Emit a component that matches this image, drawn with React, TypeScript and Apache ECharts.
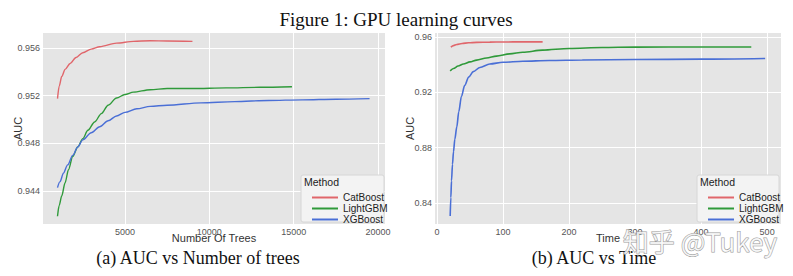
import React, { useEffect, useRef } from "react";
import * as echarts from "echarts";

// ---- Data ----
const methods = ["CatBoost", "LightGBM", "XGBoost"];

// (a) AUC vs Number of trees
const catTrees = [1000, 1100, 1250, 1450, 1750, 2100, 2500, 3000, 3500, 4500, 5500, 6500, 7500, 9000];
const catAucTrees = [0.95175, 0.9528, 0.9536, 0.9542, 0.9547, 0.9552, 0.9556, 0.9559, 0.9561, 0.9564, 0.95655, 0.9566, 0.95658, 0.95655];

const lgbTrees = [1000, 1100, 1250, 1450, 1650, 1900, 2200, 2500, 2800, 3200, 3600, 4000, 4500, 5000, 5500, 6500, 7500, 9000, 11000, 13000, 14900];
const lgbAucTrees = [0.9419, 0.9428, 0.9436, 0.9447, 0.9458, 0.9469, 0.9477, 0.9484, 0.9491, 0.9498, 0.9505, 0.9512, 0.9518, 0.9521, 0.9523, 0.9525, 0.9526, 0.9526, 0.95265, 0.9527, 0.95275];

const xgbTrees = [1000, 1150, 1350, 1600, 1900, 2200, 2500, 3000, 3500, 4000, 4500, 5000, 5700, 6500, 7500, 9500, 11500, 13500, 15500, 17500, 19500];
const xgbAucTrees = [0.9443, 0.9448, 0.9455, 0.9462, 0.947, 0.9477, 0.9483, 0.9489, 0.9494, 0.9499, 0.9503, 0.9506, 0.9509, 0.9511, 0.9512, 0.9514, 0.9515, 0.9516, 0.95165, 0.9517, 0.95175];

// (b) AUC vs Time
const catTime = [21, 25, 30, 38, 48, 60, 80, 100, 130, 160];
const catAucTime = [0.9527, 0.9538, 0.9546, 0.9553, 0.9558, 0.9561, 0.9563, 0.9564, 0.9565, 0.9565];

const lgbTime = [20, 25, 32, 40, 50, 60, 75, 90, 110, 130, 160, 200, 250, 300, 400, 476];
const lgbAucTime = [0.9355, 0.9372, 0.939, 0.9405, 0.942, 0.9433, 0.9448, 0.9462, 0.9478, 0.949, 0.9505, 0.9517, 0.9524, 0.9527, 0.9528, 0.9528];

const xgbTime = [20, 21, 22, 23.5, 25, 27, 30, 33, 37, 42, 48, 55, 65, 80, 100, 130, 170, 220, 300, 400, 497];
const xgbAucTime = [0.8306, 0.844, 0.856, 0.868, 0.877, 0.886, 0.895, 0.906, 0.917, 0.925, 0.931, 0.935, 0.938, 0.9405, 0.9417, 0.9425, 0.943, 0.9434, 0.9437, 0.944, 0.9445];

// tick labels
const treeTicks = [5000, 10000, 15000, 20000];
const aucTicksA = [0.944, 0.948, 0.952, 0.956];
const timeTicks = [0, 100, 200, 300, 400, 500];
const aucTicksB = [0.84, 0.88, 0.92, 0.96];

const colors = ["#e0666b", "#2f9a3a", "#4a6fd6"];

const zip = (xs: number[], ys: number[]) => xs.map((x, i) => [x, ys[i]]);

export default function App() {
  const ref = useRef<HTMLDivElement>(null);

  useEffect(() => {
    if (!ref.current) return;
    const chart = echarts.init(ref.current, undefined, { renderer: "svg" });

    const tickLabel = {
      color: "#555",
      fontSize: 9,
      fontFamily: "Liberation Sans",
      formatter: (v: number) => String(v),
    };
    const axisNameStyle = { color: "#333", fontSize: 11, fontFamily: "Liberation Sans" };
    const splitLine = { show: true, lineStyle: { color: "#ffffff", width: 1 } };

    const mkX = (gridIndex: number, min: number, max: number, ticks: number[], name: string) => ({
      type: "value",
      gridIndex,
      min,
      max,
      name,
      nameLocation: "middle",
      nameGap: 8,
      nameMoveOverlap: false,
      nameTextStyle: axisNameStyle,
      axisLine: { show: false },
      axisTick: { show: false, customValues: ticks },
      axisLabel: { ...tickLabel, margin: 3, customValues: ticks },
      splitLine: { ...splitLine, customValues: ticks },
    });
    const mkY = (gridIndex: number, min: number, max: number, ticks: number[]) => ({
      type: "value",
      gridIndex,
      min,
      max,
      name: "AUC",
      nameLocation: "middle",
      nameGap: 20,
      nameRotate: 90,
      nameMoveOverlap: false,
      nameTextStyle: axisNameStyle,
      axisLine: { show: false },
      axisTick: { show: false, customValues: ticks },
      axisLabel: { ...tickLabel, margin: 3, customValues: ticks },
      splitLine: { ...splitLine, customValues: ticks },
    });

    const treeData = [zip(catTrees, catAucTrees), zip(lgbTrees, lgbAucTrees), zip(xgbTrees, xgbAucTrees)];
    const timeData = [zip(catTime, catAucTime), zip(lgbTime, lgbAucTime), zip(xgbTime, xgbAucTime)];

    const series: any[] = [];
    methods.forEach((m, i) => {
      series.push({
        type: "line",
        name: m,
        xAxisIndex: 0,
        yAxisIndex: 0,
        data: treeData[i],
        symbol: "none",
        smooth: 0.3,
        smoothMonotone: "x",
        lineStyle: { color: colors[i], width: 1.4 },
        itemStyle: { color: colors[i] },
        z: 3,
      });
      series.push({
        type: "line",
        name: m,
        xAxisIndex: 1,
        yAxisIndex: 1,
        data: timeData[i],
        symbol: "none",
        smooth: 0.3,
        smoothMonotone: "x",
        lineStyle: { color: colors[i], width: 1.6 },
        itemStyle: { color: colors[i] },
        z: 3,
      });
    });

    const legendBase = {
      orient: "vertical",
      top: 187,
      icon: "rect",
      itemWidth: 26,
      itemHeight: 2,
      itemGap: 0,
      selectedMode: false,
      textStyle: { color: "#222", fontSize: 10, lineHeight: 11, fontFamily: "Liberation Sans" },
      data: methods,
      z: 10,
    };

    const serif = "Liberation Serif";

    chart.setOption({
      animation: false,
      backgroundColor: "#ffffff",
      grid: [
        { left: 43, top: 33, width: 342, height: 191, show: true, backgroundColor: "#e5e5e5", borderWidth: 0 },
        { left: 435, top: 33, width: 346, height: 191, show: true, backgroundColor: "#e5e5e5", borderWidth: 0 },
      ],
      xAxis: [
        mkX(0, 140, 20415, treeTicks, "Number Of Trees"),
        mkX(1, -3, 521, timeTicks, "Time"),
      ],
      yAxis: [mkY(0, 0.94125, 0.95725, aucTicksA), mkY(1, 0.8248, 0.9629, aucTicksB)],
      legend: [
        { ...legendBase, left: 307 },
        { ...legendBase, left: 703 },
      ],
      series,
      graphic: [
        {
          type: "text",
          x: 396,
          y: 19,
          style: { text: "Figure 1: GPU learning curves", fontFamily: serif, fontSize: 19, fill: "#111", align: "center", verticalAlign: "middle" },
        },
        {
          type: "text",
          x: 198,
          y: 258,
          style: { text: "(a) AUC vs Number of trees", fontFamily: serif, fontSize: 18, fill: "#111", align: "center", verticalAlign: "middle" },
        },
        {
          type: "text",
          x: 594,
          y: 258,
          style: { text: "(b) AUC vs Time", fontFamily: serif, fontSize: 18, fill: "#111", align: "center", verticalAlign: "middle" },
        },
        {
          type: "rect",
          shape: { x: 301, y: 175, width: 83, height: 47, r: 2 },
          style: { fill: "#f3f3f3", stroke: "#d6d6d6", lineWidth: 1 },
          z: 5,
        },
        {
          type: "text",
          x: 304,
          y: 182,
          style: { text: "Method", fontFamily: "Liberation Sans", fontSize: 10.5, fill: "#222", align: "left", verticalAlign: "middle" },
          z: 6,
        },
        {
          type: "rect",
          shape: { x: 697, y: 175, width: 82, height: 47, r: 2 },
          style: { fill: "#f3f3f3", stroke: "#d6d6d6", lineWidth: 1 },
          z: 5,
        },
        {
          type: "text",
          x: 700,
          y: 182,
          style: { text: "Method", fontFamily: "Liberation Sans", fontSize: 10.5, fill: "#222", align: "left", verticalAlign: "middle" },
          z: 6,
        },
        {
          type: "text",
          x: 700,
          y: 240,
          style: {
            text: "知乎 @Tukey",
            fontFamily: "Noto Sans CJK SC",
            fontSize: 26,
            fill: "rgba(255,255,255,0.75)",
            stroke: "#9a9a9a",
            lineWidth: 1,
            align: "center",
            verticalAlign: "middle",
          },
          z: 20,
        },
      ],
    });

    return () => chart.dispose();
  }, []);

  return (
    <div
      ref={ref}
      style={{ position: "absolute", left: 0, top: 0, width: 793, height: 276, background: "#fff" }}
    />
  );
}
